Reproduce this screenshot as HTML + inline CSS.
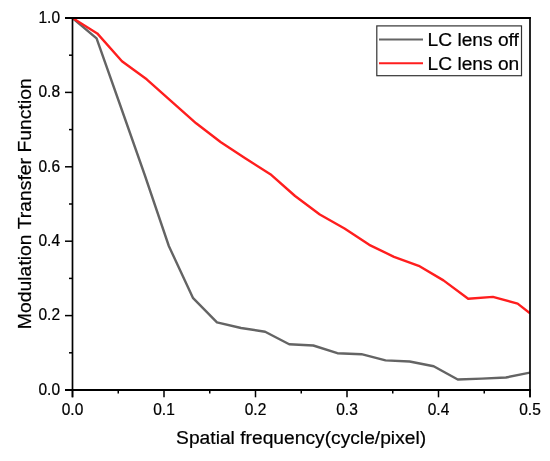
<!DOCTYPE html>
<html><head><meta charset="utf-8"><style>
html,body{margin:0;padding:0;background:#fff;}
svg{display:block;}
text{font-family:"Liberation Sans",Arial,sans-serif;fill:#000;stroke:#000;stroke-width:0.22px;}
</style></head><body>
<svg width="550" height="461" viewBox="0 0 550 461">
<rect width="550" height="461" fill="#fff"/>
<defs><clipPath id="c"><rect x="72.5" y="18" width="457.5" height="372"/></clipPath></defs>
<g clip-path="url(#c)" fill="none" stroke-width="2.4" stroke-linejoin="round">
<polyline points="72.50,18.00 96.58,38.30 120.66,106.50 144.74,175.00 168.82,246.00 192.89,297.80 216.97,322.30 241.05,328.00 265.13,331.70 289.21,344.20 313.29,345.50 337.37,353.20 361.45,354.20 385.53,360.40 409.61,361.50 433.68,366.20 457.76,379.50 481.84,378.60 505.92,377.50 530.00,372.60" stroke="#646464"/>
<polyline points="72.50,18.00 97.23,33.40 121.96,61.20 146.69,79.30 171.42,101.30 196.15,123.30 220.88,142.30 245.61,158.50 270.34,174.20 295.07,196.00 319.80,214.50 344.53,228.50 369.26,244.80 393.99,256.80 418.72,265.80 443.45,280.40 468.18,298.80 492.91,296.90 517.64,303.60 530.00,313.20" stroke="#ff1e1e"/>
</g>
<g stroke="#000" fill="none">
<g stroke-width="1.5"><line x1="65" y1="390.00" x2="72.5" y2="390.00"/><line x1="65" y1="315.60" x2="72.5" y2="315.60"/><line x1="65" y1="241.20" x2="72.5" y2="241.20"/><line x1="65" y1="166.80" x2="72.5" y2="166.80"/><line x1="65" y1="92.40" x2="72.5" y2="92.40"/><line x1="65" y1="18.00" x2="72.5" y2="18.00"/><line x1="69" y1="352.80" x2="72.5" y2="352.80"/><line x1="69" y1="278.40" x2="72.5" y2="278.40"/><line x1="69" y1="204.00" x2="72.5" y2="204.00"/><line x1="69" y1="129.60" x2="72.5" y2="129.60"/><line x1="69" y1="55.20" x2="72.5" y2="55.20"/><line x1="72.50" y1="390" x2="72.50" y2="397.3"/><line x1="164.00" y1="390" x2="164.00" y2="397.3"/><line x1="255.50" y1="390" x2="255.50" y2="397.3"/><line x1="347.00" y1="390" x2="347.00" y2="397.3"/><line x1="438.50" y1="390" x2="438.50" y2="397.3"/><line x1="530.00" y1="390" x2="530.00" y2="397.3"/><line x1="118.25" y1="390" x2="118.25" y2="393.5"/><line x1="209.75" y1="390" x2="209.75" y2="393.5"/><line x1="301.25" y1="390" x2="301.25" y2="393.5"/><line x1="392.75" y1="390" x2="392.75" y2="393.5"/><line x1="484.25" y1="390" x2="484.25" y2="393.5"/></g>
<line x1="65" y1="18" x2="530.85" y2="18" stroke-width="2.1"/>
<line x1="65" y1="390" x2="530.85" y2="390" stroke-width="2.1"/>
<line x1="72.5" y1="16.95" x2="72.5" y2="397.3" stroke-width="1.7"/>
<line x1="530" y1="16.95" x2="530" y2="397.3" stroke-width="1.7"/>
</g>
<g font-size="15.5">
<text transform="translate(60,394.70) scale(1,1.08)" text-anchor="end">0.0</text><text transform="translate(60,320.30) scale(1,1.08)" text-anchor="end">0.2</text><text transform="translate(60,245.90) scale(1,1.08)" text-anchor="end">0.4</text><text transform="translate(60,171.50) scale(1,1.08)" text-anchor="end">0.6</text><text transform="translate(60,97.10) scale(1,1.08)" text-anchor="end">0.8</text><text transform="translate(60,22.70) scale(1,1.08)" text-anchor="end">1.0</text><text transform="translate(72.50,414.8) scale(1,1.08)" text-anchor="middle">0.0</text><text transform="translate(164.00,414.8) scale(1,1.08)" text-anchor="middle">0.1</text><text transform="translate(255.50,414.8) scale(1,1.08)" text-anchor="middle">0.2</text><text transform="translate(347.00,414.8) scale(1,1.08)" text-anchor="middle">0.3</text><text transform="translate(438.50,414.8) scale(1,1.08)" text-anchor="middle">0.4</text><text transform="translate(530.00,414.8) scale(1,1.08)" text-anchor="middle">0.5</text>
</g>
<g>
<rect x="376.8" y="25.9" width="144.7" height="49.8" fill="#fff" stroke="#333" stroke-width="1.2"/>
<line x1="379" y1="39.5" x2="423" y2="39.5" stroke="#646464" stroke-width="2"/>
<line x1="379" y1="63.2" x2="423" y2="63.2" stroke="#ff1e1e" stroke-width="2"/>
<text transform="translate(427.6,45.8) scale(1.01,1.0)" font-size="19">LC lens off</text>
<text transform="translate(427.6,69.8) scale(1.01,1.0)" font-size="19">LC lens on</text>
</g>
<text transform="translate(301.1,443.8) scale(1.012,1.0)" font-size="19" text-anchor="middle">Spatial frequency(cycle/pixel)</text>
<text transform="translate(31,203.7) rotate(-90) scale(1.02,1.0)" font-size="19" text-anchor="middle">Modulation Transfer Function</text>
</svg>
</body></html>
